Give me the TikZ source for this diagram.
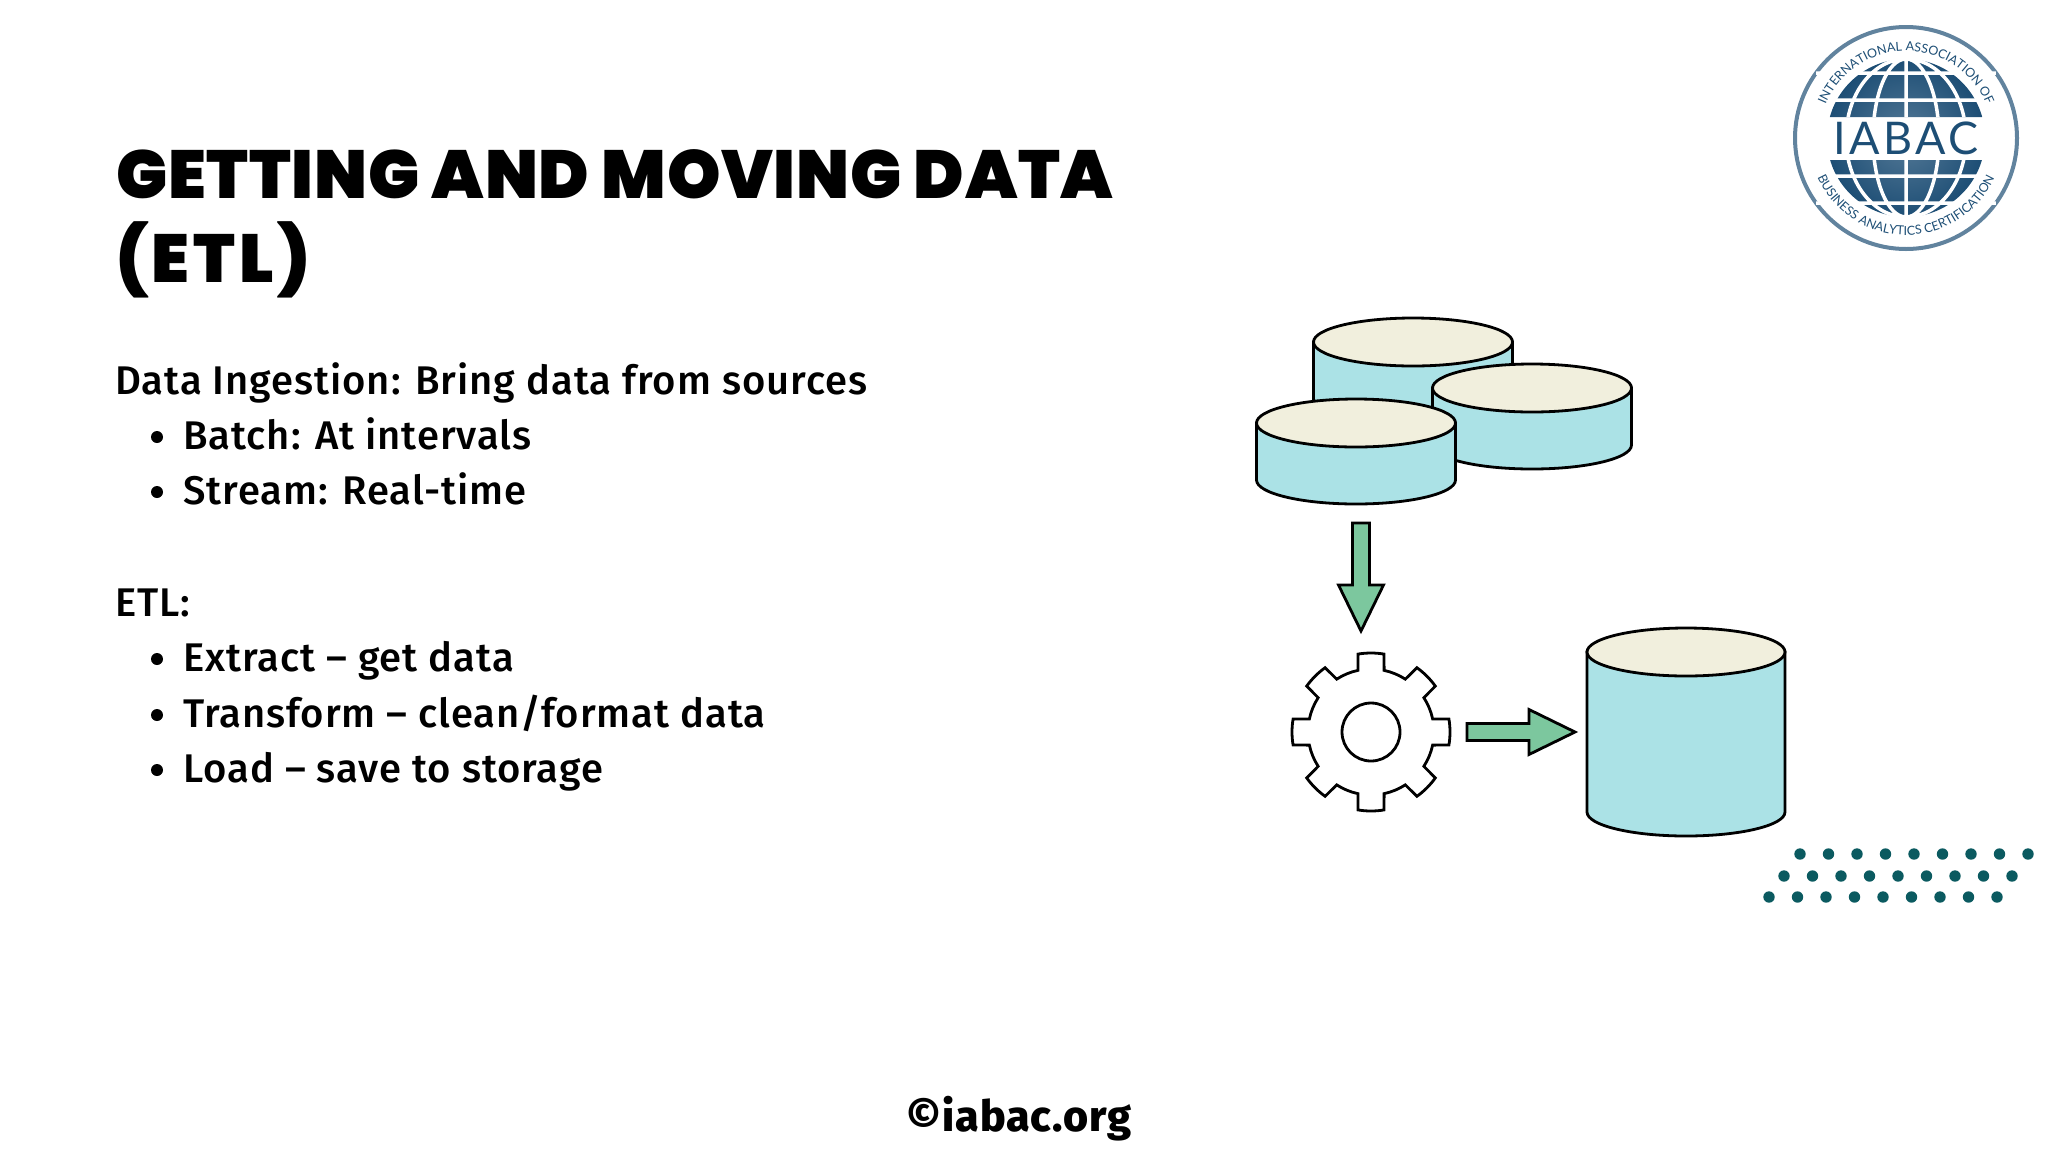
\documentclass[tikz,border=0pt]{standalone}
\usepackage{fontspec}
\setmainfont{Fira Sans Medium}[LetterSpace=2.4]
\newfontfamily\headfont{Poppins Black}[LetterSpace=1.1]
\newfontfamily\headwidefont{Poppins Black}[LetterSpace=6]
\newfontfamily\sitefont{Fira Sans ExtraBold}[LetterSpace=2]
\newfontfamily\logofont{Lato}
\newfontfamily\logonamefont{Lato}[LetterSpace=8]
\usetikzlibrary{calc,decorations.text}
\definecolor{discside}{HTML}{ABE2E6}
\definecolor{disctop}{HTML}{F1EFDD}
\definecolor{arrowgreen}{HTML}{7CC79E}
\definecolor{dotteal}{HTML}{0B5A60}
\definecolor{logoblue}{HTML}{1D4E75}
\tikzset{
    pics/disc/.style n args={3}{code={
        \draw[draw=black,line width=2.8pt,fill=discside] (-#1,0) -- (-#1,#3)
            arc[start angle=180,end angle=0,x radius=#1,y radius=#2] -- (#1,0) -- cycle;
        \draw[draw=black,line width=2.8pt,fill=disctop] (0,0) ellipse (#1 and #2);
    }},
    blockarrow/.style={draw=black,line width=2.8pt,fill=arrowgreen,line join=miter,
        to path={($(\tikztostart)!8.5pt!90:(\tikztotarget)$)
            -- ($(\tikztotarget)!46pt!(\tikztostart)!8.5pt!-90:(\tikztostart)$)
            -- ($(\tikztotarget)!46pt!(\tikztostart)!22.5pt!-90:(\tikztostart)$)
            -- (\tikztotarget)
            -- ($(\tikztotarget)!46pt!(\tikztostart)!22.5pt!90:(\tikztostart)$)
            -- ($(\tikztotarget)!46pt!(\tikztostart)!8.5pt!90:(\tikztostart)$)
            -- ($(\tikztostart)!8.5pt!-90:(\tikztotarget)$) -- cycle}},
    headline/.style={anchor=base west,inner sep=0pt,font=\fontsize{68pt}{68pt}\headfont},
    bodyline/.style={anchor=base west,inner sep=0pt,font=\fontsize{40pt}{40pt}\selectfont},
    ringtext/.style={decorate,decoration={text along path,text align=center,
        text={|\fontsize{12.5pt}{12.5pt}\logofont\color{logoblue}|#1}}}
}
\begin{document}
\begin{tikzpicture}[x=1pt,y=-1pt]
    \useasboundingbox (0,0) rectangle (2048,1152);
    % title and text
    \node[headline] (titlea) at (116,198) {GETTING AND MOVING DATA};
    \node[headline,font=\fontsize{68pt}{68pt}\headwidefont] (titleb) at (116,282) {(ETL)};
    \node[bodyline] (ingest) at (115,394) {Data Ingestion: Bring data from sources};
    \node[bodyline] (batch) at (183,449) {Batch: At intervals};
    \node[bodyline] (stream) at (183,504) {Stream: Real-time};
    \node[bodyline] (etl) at (115,616) {ETL:};
    \node[bodyline] (extract) at (183,671) {Extract -- get data};
    \node[bodyline] (transform) at (183,727) {Transform -- clean/format data};
    \node[bodyline] (load) at (183,782) {Load -- save to storage};
    \foreach \ln in {batch,stream,extract,transform,load}
        \fill (157,0 |- \ln.base) ++(0,-12) circle (6);
    \node[anchor=base,inner sep=0pt,font=\fontsize{43pt}{43pt}\sitefont] (site) at (1019,1131) {©iabac.org};
    % discs
    \pic (discb) at (1413,342) {disc={99.5}{24}{57}};
    \pic (discr) at (1532,388) {disc={99.5}{24}{57}};
    \pic (discl) at (1356,423) {disc={99.5}{24}{57}};
    \pic (store) at (1686,652) {disc={99}{24}{160}};
    % gear
    \node[circle,draw=black,line width=2.8pt,minimum size=58pt,inner sep=0pt] (gearhub) at (1371,732) {};
    \draw[line width=2.8pt,shift={(gearhub.center)}] (-12:63)
        \foreach \a in {0,45,...,315}{
            -- ({\a-9.5}:79) arc[start angle=\a-9.5,end angle=\a+9.5,radius=79]
            -- ({\a+12}:63) arc[start angle=\a+12,end angle=\a+33,radius=63]
        } -- cycle;
    % arrows
    \coordinate (downtail) at (1361,523);
    \coordinate (downtip) at (1361,631);
    \coordinate (righttail) at (1467,732);
    \coordinate (righttip) at (1575,732);
    \draw[blockarrow] (downtail) to (downtip);
    \draw[blockarrow] (righttail) to (righttip);
    % dots
    \foreach \row/\xs/\ys in {0/1800/854,1/1784/876,2/1769/897}
        \foreach \i in {0,...,8}
            \fill[dotteal] ({\xs+28.5*\i},\ys) circle (5.7);
    % logo
    \node[circle,draw=logoblue!70,line width=4pt,minimum size=222pt,inner sep=0pt] (logo) at (1906,138) {};
    \begin{scope}[shift={(logo.center)}]
        \begin{scope}
            \clip (-90,-90) rectangle (90,-21) (-90,22) rectangle (90,90);
            \shade[inner color=logoblue!75,outer color=logoblue] (0,0) circle (79);
            \draw[white,line width=3.5pt] (-90,-38) -- (90,-38) (-90,-65) -- (90,-65)
                (-90,38) -- (90,38) (-90,65) -- (90,65) (0,-80) -- (0,80)
                (0,0) ellipse (33 and 79) (0,0) ellipse (60 and 79);
        \end{scope}
        \path[ringtext=INTERNATIONAL ASSOCIATION OF] (190:87) arc[start angle=190,end angle=350,radius=87];
        \path[ringtext=BUSINESS ANALYTICS CERTIFICATION] (170:97) arc[start angle=170,end angle=10,radius=97];
        \node[inner sep=0pt,text=logoblue,font=\fontsize{45pt}{45pt}\logonamefont] (logoname) at (0,0) {IABAC};
    \end{scope}
\end{tikzpicture}
\end{document}
